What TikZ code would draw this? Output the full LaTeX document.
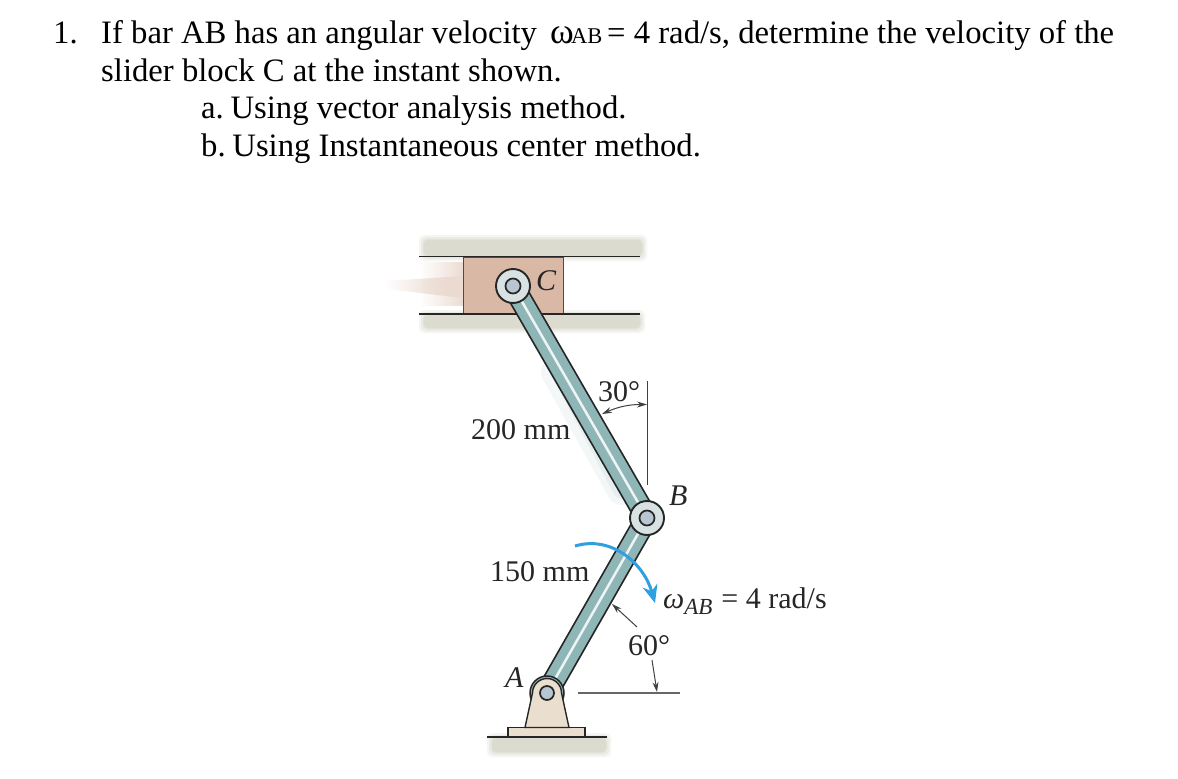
\documentclass[tikz,border=0pt]{standalone}
\usepackage{fontspec}
\setmainfont{Liberation Serif}
\usetikzlibrary{arrows.meta,fadings,calc}
\definecolor{shadow}{HTML}{DAD9CD}
\definecolor{blockc}{HTML}{D9B9A6}
\definecolor{barc}{HTML}{8FB6B7}
\definecolor{pinc}{HTML}{D8E2E2}
\definecolor{ballc}{HTML}{B8C6D2}
\definecolor{basec}{HTML}{EADFCF}
\definecolor{blueg}{HTML}{2E9FE0}
\tikzfading[name=fadeleft, left color=transparent!100, right color=transparent!0]
\tikzset{
 q/.style={inner sep=0pt,anchor=base west,font=\fontsize{32.7}{33}\selectfont},
 lab/.style={inner sep=0pt,anchor=base west,font=\fontsize{30}{30}\selectfont,text=black!85},
 ilab/.style={lab,font=\fontsize{30}{30}\selectfont\itshape},
 guide/.style={line width=1.7pt,black!85},
 dim/.style={line width=1pt,black!75},
 dimt/.style={line width=1pt,black!75,-{Stealth[length=10pt,width=6pt]}},
 dimb/.style={line width=1pt,black!75,{Stealth[length=10pt,width=6pt]}-{Stealth[length=10pt,width=6pt]}},
 pinout/.style={circle,draw=black!85,line width=1.9pt,fill=pinc,minimum size=34pt,inner sep=0pt},
 pinin/.style={circle,draw=black!85,line width=1.7pt,fill=ballc,minimum size=15pt,inner sep=0pt},
}
\newcommand{\shadowbar}[4]{%
 \foreach \e/\o in {5/.25,3/.35,1/.5,0/.7}
  \fill[shadow,opacity=\o,rounded corners=5pt] (#1-\e,#2-\e) rectangle (#3+\e,#4+\e);}
\newcommand{\barlink}[4]{%
 \draw[black!85,line width=23pt] (#1) -- (#2);
 \draw[barc,line width=19.5pt] (#1) -- (#2);
 \draw[white!85!barc,line width=2.5pt,shift={(#3,#4)}] (#1) -- (#2);}
\begin{document}
\begin{tikzpicture}[x=1pt,y=-1pt]
\useasboundingbox (0,0) rectangle (1178,779);
\fill[white] (0,0) rectangle (1178,779);
% question text
\node[q] (t1n) at (53,43) {1.};
\node[q] (t1) at (101,43) {If bar AB has an angular velocity};
\node[q,font=\fontsize{36}{36}\selectfont] (t1w) at (550,43) {ω};
\node[q,font=\fontsize{22.5}{23}\selectfont] (t1s) at (571,43.5) {AB};
\node[q] (t1b) at (607,43) {= 4 rad/s, determine the velocity of the};
\node[q] (t2) at (101,81) {slider block C at the instant shown.};
\node[q] (t3) at (201,118.5) {a.\kern-1.5pt\ Using vector analysis method.};
\node[q] (t4) at (201,156) {b.\kern-1.5pt\ Using Instantaneous center method.};
% shadows
\shadowbar{424}{240}{642}{256}
\shadowbar{424}{315}{640}{328}
\shadowbar{492}{738}{606}{752}
% motion streaks
\fill[blockc!70,path fading=fadeleft] (386,281) -- (463,276) -- (463,298) -- (386,289) -- cycle;
\fill[blockc!50,path fading=fadeleft] (420,262) rectangle (463,306);
% soft shade beside the bar
\draw[barc,opacity=.10,line width=30pt,line cap=round] (556,372) -- (622,490);
\draw[barc,opacity=.12,line width=18pt,line cap=round] (560,372) -- (622,490);
% block and guides
\draw[fill=blockc,draw=black!70,line width=1.5pt] (463.5,257) rectangle (563.5,314);
\draw[guide] (419,256.5) -- (640,256.5);
\draw[guide] (419,314) -- (640,314);
% pin positions
\coordinate (C) at (513,286);
\coordinate (B) at (647,518);
\coordinate (A) at (547,693);
% links
\barlink{A}{B}{-2.6}{-1.5}
\barlink{B}{C}{3.5}{2}
% 30 deg dimension
\coordinate (v1) at (647,381);
\coordinate (v2) at (647,485);
\draw[dim] (v1) -- (v2);
\coordinate (a1) at (602,414);
\coordinate (a2) at (647,404.5);
\draw[dimb] (a1) to[bend left=12] (a2);
\node[lab] (n30) at (598,401) {30°};
\node[lab] (n200) at (471,439) {200 mm};
\node[ilab] (nC) at (536,290) {C};
\node[ilab] (nB) at (669,505) {B};
\node[ilab] (nA) at (505,687) {A};
\node[lab] (n150) at (490,581) {150 mm};
\node[lab] (n60) at (628,655) {60°};
% pins
\node[pinout] (pC) at (C) {};
\node[pinin] (bC) at (C) {};
\node[pinout] (pB) at (B) {};
\node[pinin] (bB) at (B) {};
% clevis at A
\draw[fill=barc,draw=black!85,line width=1.5pt] (A) circle (17);
\draw[fill=basec,draw=black!85,line width=1.4pt] (508,727.5) rectangle (585,737);
\draw[fill=basec,draw=black!85,line width=1.4pt] (525,727.5) -- (532.5,693) arc[start angle=180,end angle=360,radius=14.5] -- (569,727.5) -- cycle;
\node[pinin,minimum size=14pt] (bA) at (A) {};
\draw[guide] (487,737) -- (607,737);
% angular velocity arrow
\coordinate (w1) at (575,546);
\coordinate (w2) at (655,603);
\draw[blueg,line width=3pt,-{Stealth[length=18pt,width=15pt]}] (w1) .. controls (612,535) and (644,564) .. (w2);
\node[lab] (nw) at (663,608) {\textit{ω}\raisebox{-.22em}{\fontsize{23}{23}\selectfont\itshape AB}\kern.3em= 4 rad/s};
% 60 deg dimension
\coordinate (h1) at (578,693);
\coordinate (h2) at (680,693);
\draw[dim,line width=1.4pt,black!60] (h1) -- (h2);
\coordinate (s1) at (637,627);
\coordinate (s2) at (612,604);
\draw[dimt] (s1) -- (s2);
\coordinate (s3) at (652,660);
\coordinate (s4) at (657,692);
\draw[dimt] (s3) -- (s4);
\end{tikzpicture}
\end{document}
